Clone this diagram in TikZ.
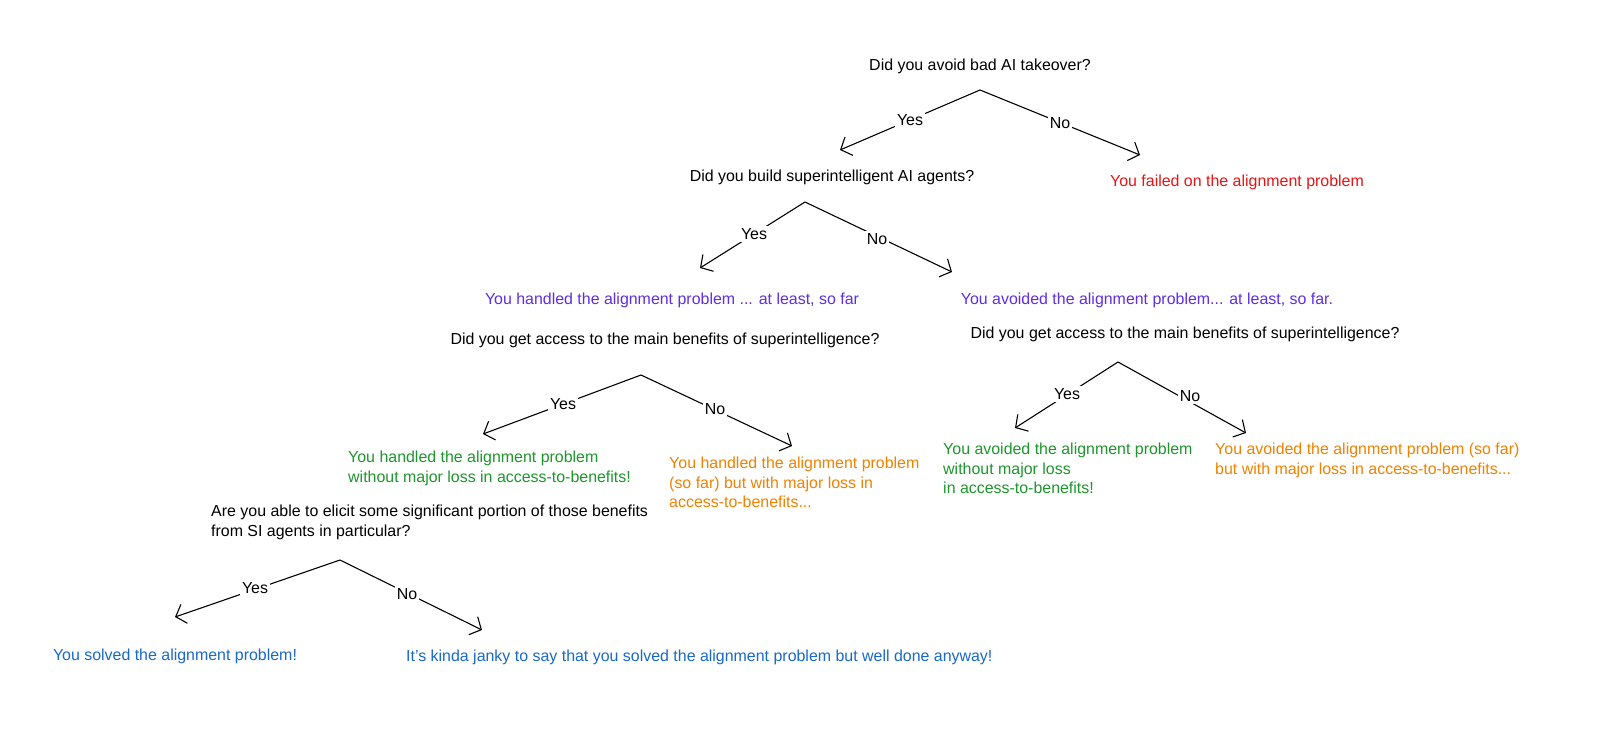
\documentclass[tikz,border=0pt]{standalone}
\usepackage{fontspec}
\setmainfont{Liberation Sans}
\usetikzlibrary{arrows.meta}
\definecolor{cred}{RGB}{230,20,20}
\definecolor{cpur}{RGB}{95,45,230}
\definecolor{cgrn}{RGB}{30,150,45}
\definecolor{corg}{RGB}{240,130,0}
\definecolor{cblu}{RGB}{25,105,200}
\begin{document}
\begin{tikzpicture}[x=1bp,y=-1bp,
  every node/.style={font=\fontsize{16}{19.5}\selectfont,inner sep=0pt},
  q/.style={},
  lbl/.style={fill=white,inner sep=2pt},
  txt/.style={align=left,anchor=north west},
  br/.style={line width=1.1pt},
  ar/.style={br,-{Straight Barb[length=9pt,width=20pt,line width=1.1pt]}}]
\useasboundingbox[fill=white] (0,0) rectangle (1600,734);
% level 1
\node[q] (q1) at (980,66) {Did you avoid bad AI takeover?};
\coordinate (a1) at (980,90);
\coordinate (l1) at (840,150);
\coordinate (r1) at (1140,155);
\draw[ar] (a1) -- (l1);
\draw[ar] (a1) -- (r1);
\node[lbl] (y1) at (910,120) {Yes};
\node[lbl] (n1) at (1060,123) {No};
\node[q] (q2) at (832,177) {Did you build superintelligent AI agents?};
\node[text=cred] (f1) at (1237,182) {You failed on the alignment problem};
% level 2
\coordinate (a2) at (805,202);
\coordinate (l2) at (700,268);
\coordinate (r2) at (952,272);
\draw[ar] (a2) -- (l2);
\draw[ar] (a2) -- (r2);
\node[lbl] (y2) at (754,234) {Yes};
\node[lbl] (n2) at (877,239) {No};
\node[text=cpur] (p1) at (672,300) {You handled the alignment problem ... at least, so far};
\node[text=cpur] (p2) at (1147,300) {You avoided the alignment problem... at least, so far.};
\node[q] (q3) at (665,340) {Did you get access to the main benefits of superintelligence?};
\node[q] (q4) at (1185,334) {Did you get access to the main benefits of superintelligence?};
% level 3 left
\coordinate (a3) at (641,375);
\coordinate (l3) at (483,434);
\coordinate (r3) at (792,446);
\draw[ar] (a3) -- (l3);
\draw[ar] (a3) -- (r3);
\node[lbl] (y3) at (563,404) {Yes};
\node[lbl] (n3) at (715,409) {No};
\node[txt,text=cgrn] (g1) at (348,451) {You handled the alignment problem\\without major loss in access-to-benefits!};
\node[txt,text=corg] (o1) at (669,457) {You handled the alignment problem\\(so far) but with major loss in\\access-to-benefits...};
% level 3 right
\coordinate (a4) at (1118,362);
\coordinate (l4) at (1015,428);
\coordinate (r4) at (1246,433);
\draw[ar] (a4) -- (l4);
\draw[ar] (a4) -- (r4);
\node[lbl] (y4) at (1067,394) {Yes};
\node[lbl] (n4) at (1190,396) {No};
\node[txt,text=cgrn] (g2) at (943,443) {You avoided the alignment problem\\without major loss\\in access-to-benefits!};
\node[txt,text=corg] (o2) at (1215,443) {You avoided the alignment problem (so far)\\but with major loss in access-to-benefits...};
% level 4
\node[txt] (q5) at (211,505) {Are you able to elicit some significant portion of those benefits\\from SI agents in particular?};
\coordinate (a5) at (340,560);
\coordinate (l5) at (175,617);
\coordinate (r5) at (482,630);
\draw[ar] (a5) -- (l5);
\draw[ar] (a5) -- (r5);
\node[lbl] (y5) at (255,588) {Yes};
\node[lbl] (n5) at (407,594) {No};
\node[text=cblu] (b1) at (175,656) {You solved the alignment problem!};
\node[text=cblu,anchor=west] (b2) at (406,657) {It's kinda janky to say that you solved the alignment problem but well done anyway!};
\end{tikzpicture}
\end{document}
